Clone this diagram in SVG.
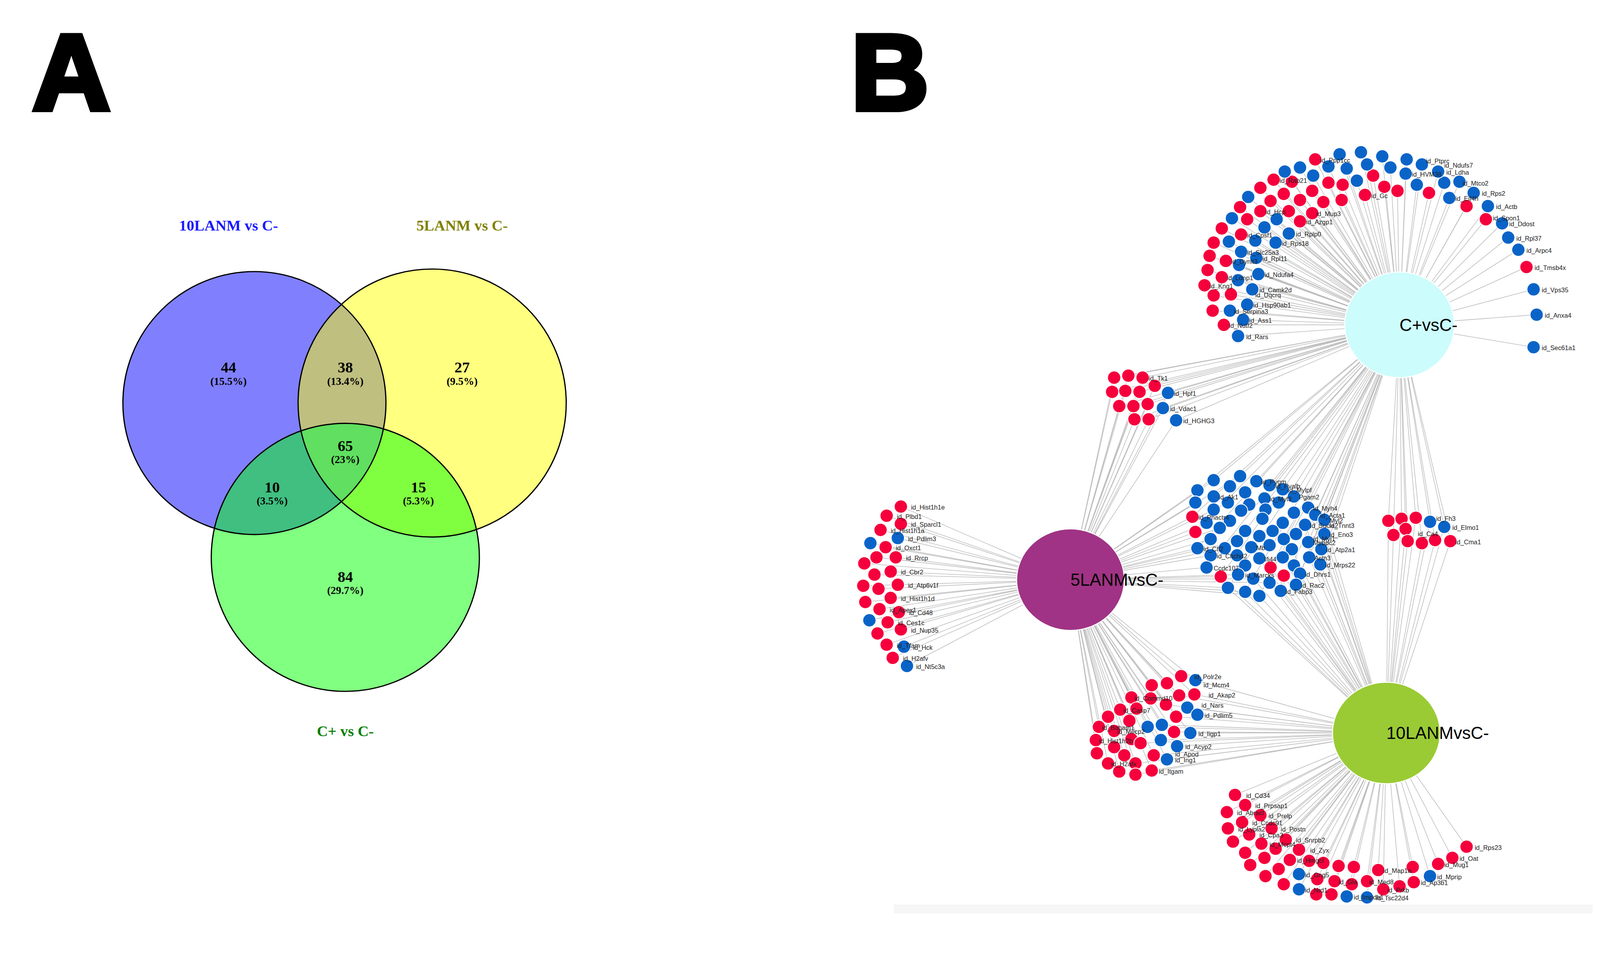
<svg xmlns="http://www.w3.org/2000/svg" width="4342" height="2490" viewBox="0 0 4342 2490">
<style>
.big{font-family:"Liberation Sans",Arial,sans-serif;font-weight:bold;font-size:106px;fill:#000;stroke:#000;stroke-width:5}
.vl{font-family:"Liberation Serif","Times New Roman",serif;font-weight:bold;font-size:15px;text-anchor:middle}
.vn{font-family:"Liberation Serif","Times New Roman",serif;font-weight:bold;font-size:15px;text-anchor:middle;fill:#000}
.vp{font-family:"Liberation Serif","Times New Roman",serif;font-weight:bold;font-size:10.5px;text-anchor:middle;fill:#000}
.e{fill:none;stroke:#bdbdbd;stroke-width:0.6}
.r{fill:#f5003c;stroke:#fff;stroke-width:0.8}
.b{fill:#0a64c8;stroke:#fff;stroke-width:0.8}
.t{font-family:"Liberation Sans",Arial,sans-serif;font-size:6.3px;fill:#222}
.h{font-family:"Liberation Sans",Arial,sans-serif;font-size:17px;fill:#000}
</style>
<rect width="4342" height="2490" fill="#fff"/>
<g transform="scale(2.6 2.598)">
<text class="big" x="32" y="108">A</text>
<text class="big" x="838" y="108">B</text>
<rect x="880" y="891" width="688" height="9" fill="#f6f6f6"/>

<g id="venn">
<defs>
<clipPath id="cB"><circle cx="250.5" cy="397" r="129.5"/></clipPath>
<clipPath id="cY"><circle cx="425.5" cy="397" r="132"/></clipPath>
</defs>
<circle cx="250.5" cy="397" r="129.5" fill="#8080ff"/>
<circle cx="425.5" cy="397" r="132" fill="#ffff80"/>
<circle cx="340" cy="549" r="132" fill="#80ff80"/>
<circle cx="425.5" cy="397" r="132" fill="#bfbf80" clip-path="url(#cB)"/>
<circle cx="340" cy="549" r="132" fill="#40bf80" clip-path="url(#cB)"/>
<circle cx="340" cy="549" r="132" fill="#80ff40" clip-path="url(#cY)"/>
<g clip-path="url(#cB)"><circle cx="340" cy="549" r="132" fill="#60df60" clip-path="url(#cY)"/></g>
<g fill="none" stroke="#000" stroke-width="1.2">
<circle cx="250.5" cy="397" r="129.5"/>
<circle cx="425.5" cy="397" r="132"/>
<circle cx="340" cy="549" r="132"/>
</g>
<text class="vl" x="225" y="227" fill="#1a1aff">10LANM vs C-</text>
<text class="vl" x="455" y="227" fill="#808000">5LANM vs C-</text>
<text class="vl" x="340" y="725" fill="#008000">C+ vs C-</text>
<text class="vn" x="225" y="367">44</text><text class="vp" x="225" y="379">(15.5%)</text>
<text class="vn" x="340" y="367">38</text><text class="vp" x="340" y="379">(13.4%)</text>
<text class="vn" x="455" y="367">27</text><text class="vp" x="455" y="379">(9.5%)</text>
<text class="vn" x="340" y="444">65</text><text class="vp" x="340" y="456">(23%)</text>
<text class="vn" x="268" y="485">10</text><text class="vp" x="268" y="497">(3.5%)</text>
<text class="vn" x="412" y="485">15</text><text class="vp" x="412" y="497">(5.3%)</text>
<text class="vn" x="340" y="573">84</text><text class="vp" x="340" y="585">(29.7%)</text>
</g>

<g id="connectors">
<path class="e" d="M1510 342L1378 320M1513 310L1378 320M1510 285L1378 320M1503 263L1378 320M1495 246L1378 320M1485 234L1378 320M1479 220L1378 320M1463 216L1378 320M1465 203L1378 320M1444 203L1378 320M1451 190L1378 320M1437 179L1378 320M1427 195L1378 320M1422 180L1378 320M1407 190L1378 320M1416 169L1378 320M1400 162L1378 320M1395 182L1378 320M1384 171L1378 320M1385 157L1378 320M1376 188L1378 320M1369 165L1378 320M1361 154L1378 320M1363 184L1378 320M1352 173L1378 320M1344 192L1378 320M1346 162L1378 320M1340 150L1378 320M1336 178L1378 320M1326 166L1378 320M1319 152L1378 320M1321 197L1378 320M1322 182L1378 320M1308 180L1378 320M1308 164L1378 320M1295 157L1378 320M1293 173L1378 320M1292 188L1378 320M1303 199L1378 320M1292 210L1378 320M1280 218L1378 320M1280 197L1378 320M1280 165L1378 320M1272 179L1378 320M1269 208L1378 320M1269 230L1378 320M1264 191L1378 320M1265 169L1378 320M1257 216L1378 320M1256 239L1378 320M1254 177L1378 320M1251 198L1378 320M1241 185L1378 320M1241 208L1378 320M1245 224L1378 320M1236 237L1378 320M1229 194L1378 320M1228 216L1378 320M1222 231L1378 320M1221 204L1378 320M1213 215L1378 320M1210 238L1378 320M1222 248L1378 320M1237 254L1378 320M1203 225L1378 320M1195 239L1378 320M1207 257L1378 320M1220 261L1378 320M1239 270L1378 320M1191 252L1378 320M1189 266L1378 320M1203 273L1378 320M1219 276L1378 320M1233 285L1378 320M1186 281L1378 320M1212 290L1378 320M1228 300L1378 320M1195 291L1378 320M1194 306L1378 320M1211 306L1378 320M1224 315L1378 320M1205 320L1378 320M1219 331L1378 320"/>
<path class="e" d="M1097 372L1378 320M1111 370L1378 320M1125 372L1378 320M1095 386L1378 320M1108 385L1378 320M1122 386L1378 320M1137 380L1378 320M1150 387L1378 320M1102 400L1378 320M1116 400L1378 320M1130 398L1378 320M1145 402L1378 320M1117 413L1378 320M1131 413L1378 320M1158 414L1378 320M1097 372L1054 571M1111 370L1054 571M1125 372L1054 571M1095 386L1054 571M1108 385L1054 571M1122 386L1054 571M1137 380L1054 571M1150 387L1054 571M1102 400L1054 571M1116 400L1054 571M1130 398L1054 571M1145 402L1054 571M1117 413L1054 571M1131 413L1054 571M1158 414L1054 571"/>
<path class="e" d="M887 499L1054 571M873 508L1054 571M887 516L1054 571M867 522L1054 571M884 530L1054 571M857 535L1054 571M872 539L1054 571M863 549L1054 571M882 549L1054 571M851 555L1054 571M877 563L1054 571M861 566L1054 571M850 577L1054 571M865 580L1054 571M884 576L1054 571M877 589L1054 571M852 593L1054 571M866 600L1054 571M885 603L1054 571M856 611L1054 571M874 613L1054 571M887 620L1054 571M864 624L1054 571M873 635L1054 571M890 637L1054 571M879 648L1054 571M893 656L1054 571"/>
<path class="e" d="M1221 469L1378 320M1195 473L1378 320M1237 474L1378 320M1250 478L1378 320M1179 483L1378 320M1263 482L1378 320M1274 489L1378 320M1288 500L1378 320M1295 507L1378 320M1304 512L1378 320M1304 526L1378 320M1288 534L1378 320M1301 541L1378 320M1289 549L1378 320M1300 556L1378 320M1280 565L1378 320M1276 576L1378 320M1261 582L1378 320M1240 587L1378 320M1226 583L1378 320M1209 579L1378 320M1174 509L1378 320M1177 524L1378 320M1179 540L1378 320M1188 559L1378 320M1202 568L1378 320M1245 491L1378 320M1226 523L1378 320M1264 531L1378 320M1251 559L1378 320M1221 469L1054 571M1195 473L1054 571M1179 483L1054 571M1177 495L1054 571M1174 509L1054 571M1188 515L1054 571M1177 524L1054 571M1192 531L1054 571M1179 540L1054 571M1192 547L1054 571M1188 559L1054 571M1202 568L1054 571M1209 579L1054 571M1226 583L1054 571M1240 587L1054 571M1219 566L1054 571M1206 540L1054 571M1195 502L1054 571M1201 520L1054 571M1218 533L1054 571M1234 570L1054 571M1250 574L1054 571M1209 579L1365 722M1226 583L1365 722M1240 587L1365 722M1261 582L1365 722M1276 576L1365 722M1250 574L1365 722M1264 567L1365 722M1280 565L1365 722M1300 556L1365 722M1289 549L1365 722M1301 541L1365 722M1288 534L1365 722M1304 526L1365 722M1304 512L1365 722M1295 507L1365 722M1288 500L1365 722M1274 557L1365 722M1251 559L1365 722M1234 570L1365 722M1202 568L1365 722M1272 541L1365 722M1285 517L1365 722M1263 549L1365 722M1240 550L1365 722"/>
<path class="e" d="M1367 513L1378 320M1380 511L1378 320M1394 510L1378 320M1408 514L1378 320M1422 519L1378 320M1372 527L1378 320M1386 533L1378 320M1400 535L1378 320M1413 532L1378 320M1428 533L1378 320M1384 521L1378 320M1367 513L1365 722M1380 511L1365 722M1394 510L1365 722M1408 514L1365 722M1422 519L1365 722M1372 527L1365 722M1386 533L1365 722M1400 535L1365 722M1413 532L1365 722M1428 533L1365 722M1384 521L1365 722"/>
<path class="e" d="M1163 666L1054 571M1177 670L1054 571M1149 673L1054 571M1134 675L1054 571M1176 684L1054 571M1161 685L1054 571M1114 687L1054 571M1133 688L1054 571M1148 694L1054 571M1169 697L1054 571M1179 704L1054 571M1103 699L1054 571M1119 698L1054 571M1158 706L1054 571M1091 706L1054 571M1112 710L1054 571M1130 716L1054 571M1144 714L1054 571M1082 716L1054 571M1097 720L1054 571M1156 721L1054 571M1172 722L1054 571M1079 729L1054 571M1114 728L1054 571M1143 729L1054 571M1159 735L1054 571M1097 736L1054 571M1123 732L1054 571M1080 742L1054 571M1107 744L1054 571M1136 744L1054 571M1149 748L1054 571M1091 752L1054 571M1118 752L1054 571M1102 760L1054 571M1118 763L1054 571M1134 759L1054 571M1163 666L1365 722M1177 670L1365 722M1176 684L1365 722M1169 697L1365 722M1179 704L1365 722M1158 706L1365 722M1156 721L1365 722M1172 722L1365 722M1159 735L1365 722M1149 748L1365 722M1143 729L1365 722M1136 744L1365 722M1134 759L1365 722M1118 763L1365 722M1144 714L1365 722M1148 694L1365 722M1161 685L1365 722M1130 716L1365 722M1123 732L1365 722M1118 752L1365 722"/>
<path class="e" d="M1216 783L1365 722M1226 793L1365 722M1208 800L1365 722M1241 803L1365 722M1223 810L1365 722M1252 816L1365 722M1209 816L1365 722M1230 822L1365 722M1214 829L1365 722M1242 831L1365 722M1266 827L1365 722M1256 836L1365 722M1226 840L1365 722M1279 837L1365 722M1245 845L1365 722M1231 852L1365 722M1270 847L1365 722M1289 848L1365 722M1303 850L1365 722M1246 863L1365 722M1259 856L1365 722M1279 861L1365 722M1318 853L1365 722M1333 854L1365 722M1357 857L1365 722M1391 854L1365 722M1416 851L1365 722M1430 845L1365 722M1444 834L1365 722M1408 863L1365 722M1392 869L1365 722M1378 873L1365 722M1362 876L1365 722M1346 868L1365 722M1331 871L1365 722M1314 868L1365 722M1297 866L1365 722M1264 871L1365 722M1279 876L1365 722M1296 881L1365 722M1311 881L1365 722M1326 883L1365 722M1346 884L1365 722"/>
</g>

<g id="cluster-cplus">
<circle class="b" cx="1510" cy="342" r="6.5"/><circle class="b" cx="1513" cy="310" r="6.5"/><circle class="b" cx="1510" cy="285" r="6.5"/><circle class="r" cx="1503" cy="263" r="6.5"/><circle class="b" cx="1495" cy="246" r="6.5"/><circle class="b" cx="1485" cy="234" r="6.5"/><circle class="b" cx="1479" cy="220" r="6.5"/><circle class="r" cx="1463" cy="216" r="6.5"/><circle class="b" cx="1465" cy="203" r="6.5"/><circle class="r" cx="1444" cy="203" r="6.5"/><circle class="b" cx="1451" cy="190" r="6.5"/><circle class="b" cx="1437" cy="179" r="6.5"/><circle class="b" cx="1427" cy="195" r="6.5"/><circle class="b" cx="1422" cy="180" r="6.5"/><circle class="r" cx="1407" cy="190" r="6.5"/><circle class="b" cx="1416" cy="169" r="6.5"/><circle class="b" cx="1400" cy="162" r="6.5"/><circle class="b" cx="1395" cy="182" r="6.5"/><circle class="b" cx="1384" cy="171" r="6.5"/><circle class="b" cx="1385" cy="157" r="6.5"/><circle class="r" cx="1376" cy="188" r="6.5"/><circle class="b" cx="1369" cy="165" r="6.5"/><circle class="b" cx="1361" cy="154" r="6.5"/><circle class="r" cx="1363" cy="184" r="6.5"/><circle class="r" cx="1352" cy="173" r="6.5"/><circle class="r" cx="1344" cy="192" r="6.5"/><circle class="b" cx="1346" cy="162" r="6.5"/><circle class="b" cx="1340" cy="150" r="6.5"/><circle class="b" cx="1336" cy="178" r="6.5"/><circle class="b" cx="1326" cy="166" r="6.5"/><circle class="b" cx="1319" cy="152" r="6.5"/><circle class="r" cx="1321" cy="197" r="6.5"/><circle class="r" cx="1322" cy="182" r="6.5"/><circle class="r" cx="1308" cy="180" r="6.5"/><circle class="b" cx="1308" cy="164" r="6.5"/><circle class="r" cx="1295" cy="157" r="6.5"/><circle class="b" cx="1293" cy="173" r="6.5"/><circle class="r" cx="1292" cy="188" r="6.5"/><circle class="r" cx="1303" cy="199" r="6.5"/><circle class="r" cx="1292" cy="210" r="6.5"/><circle class="r" cx="1280" cy="218" r="6.5"/><circle class="r" cx="1280" cy="197" r="6.5"/><circle class="b" cx="1280" cy="165" r="6.5"/><circle class="r" cx="1272" cy="179" r="6.5"/><circle class="r" cx="1269" cy="208" r="6.5"/><circle class="b" cx="1269" cy="230" r="6.5"/><circle class="r" cx="1264" cy="191" r="6.5"/><circle class="b" cx="1265" cy="169" r="6.5"/><circle class="b" cx="1257" cy="216" r="6.5"/><circle class="b" cx="1256" cy="239" r="6.5"/><circle class="r" cx="1254" cy="177" r="6.5"/><circle class="r" cx="1251" cy="198" r="6.5"/><circle class="r" cx="1241" cy="185" r="6.5"/><circle class="r" cx="1241" cy="208" r="6.5"/><circle class="b" cx="1245" cy="224" r="6.5"/><circle class="b" cx="1236" cy="237" r="6.5"/><circle class="b" cx="1229" cy="194" r="6.5"/><circle class="r" cx="1228" cy="216" r="6.5"/><circle class="r" cx="1222" cy="231" r="6.5"/><circle class="r" cx="1221" cy="204" r="6.5"/><circle class="b" cx="1213" cy="215" r="6.5"/><circle class="b" cx="1210" cy="238" r="6.5"/><circle class="b" cx="1222" cy="248" r="6.5"/><circle class="b" cx="1237" cy="254" r="6.5"/><circle class="r" cx="1203" cy="225" r="6.5"/><circle class="r" cx="1195" cy="239" r="6.5"/><circle class="r" cx="1207" cy="257" r="6.5"/><circle class="b" cx="1220" cy="261" r="6.5"/><circle class="b" cx="1239" cy="270" r="6.5"/><circle class="r" cx="1191" cy="252" r="6.5"/><circle class="r" cx="1189" cy="266" r="6.5"/><circle class="r" cx="1203" cy="273" r="6.5"/><circle class="b" cx="1219" cy="276" r="6.5"/><circle class="b" cx="1233" cy="285" r="6.5"/><circle class="r" cx="1186" cy="281" r="6.5"/><circle class="r" cx="1212" cy="290" r="6.5"/><circle class="b" cx="1228" cy="300" r="6.5"/><circle class="r" cx="1195" cy="291" r="6.5"/><circle class="r" cx="1194" cy="306" r="6.5"/><circle class="b" cx="1211" cy="306" r="6.5"/><circle class="b" cx="1224" cy="315" r="6.5"/><circle class="r" cx="1205" cy="320" r="6.5"/><circle class="b" cx="1219" cy="331" r="6.5"/>
<text class="t" x="1518" y="345">id_Sec61a1</text><text class="t" x="1521" y="313">id_Anxa4</text><text class="t" x="1518" y="288">id_Vps35</text><text class="t" x="1511" y="266">id_Tmsb4x</text><text class="t" x="1503" y="249">id_Arpc4</text><text class="t" x="1493" y="237">id_Rpl37</text><text class="t" x="1486" y="223">id_Ddost</text><text class="t" x="1470" y="217">id_Spon1</text><text class="t" x="1473" y="206">id_Actb</text><text class="t" x="1459" y="193">id_Rps2</text><text class="t" x="1440" y="183">id_Mtco2</text><text class="t" x="1424" y="172">id_Ldha</text><text class="t" x="1404" y="161">id_Ptprc</text><text class="t" x="1422" y="165">id_Ndufs7</text><text class="t" x="1390" y="174">id_HVM38</text><text class="t" x="1433" y="198">id_Eif4h</text><text class="t" x="1350" y="195">id_Gc</text><text class="t" x="1300" y="160">id_Ppp1cc</text><text class="t" x="1296" y="213">id_Mup3</text><text class="t" x="1286" y="221">id_Azgp1</text><text class="t" x="1276" y="233">id_Rplp0</text><text class="t" x="1262" y="242">id_Rps18</text><text class="t" x="1260" y="180">id_Rab21</text><text class="t" x="1246" y="211">id_Hcp</text><text class="t" x="1228" y="234">id_Cpsf1</text><text class="t" x="1228" y="251">id_Slc25a3</text><text class="t" x="1243" y="257">id_Rpl11</text><text class="t" x="1212" y="260">id_Dynlt3</text><text class="t" x="1245" y="273">id_Ndufa4</text><text class="t" x="1208" y="276">id_Lonp1</text><text class="t" x="1240" y="288">id_Camk2d</text><text class="t" x="1191" y="284">id_Kng1</text><text class="t" x="1236" y="293">id_Uqcrq</text><text class="t" x="1234" y="303">id_Hsp90ab1</text><text class="t" x="1215" y="309">id_Serpina3</text><text class="t" x="1230" y="318">id_Ass1</text><text class="t" x="1210" y="323">id_Nutf2</text><text class="t" x="1227" y="334">id_Rars</text>
</g>

<g id="cluster-cplus-5lanm">
<circle class="r" cx="1097" cy="372" r="6.5"/><circle class="r" cx="1111" cy="370" r="6.5"/><circle class="r" cx="1125" cy="372" r="6.5"/><circle class="r" cx="1095" cy="386" r="6.5"/><circle class="r" cx="1108" cy="385" r="6.5"/><circle class="r" cx="1122" cy="386" r="6.5"/><circle class="r" cx="1137" cy="380" r="6.5"/><circle class="b" cx="1150" cy="387" r="6.5"/><circle class="r" cx="1102" cy="400" r="6.5"/><circle class="r" cx="1116" cy="400" r="6.5"/><circle class="r" cx="1130" cy="398" r="6.5"/><circle class="b" cx="1145" cy="402" r="6.5"/><circle class="r" cx="1117" cy="413" r="6.5"/><circle class="r" cx="1131" cy="413" r="6.5"/><circle class="b" cx="1158" cy="414" r="6.5"/>
<text class="t" x="1131" y="375">id_Tk1</text><text class="t" x="1156" y="390">id_Hpf1</text><text class="t" x="1152" y="405">id_Vdac1</text><text class="t" x="1165" y="417">id_HGHG3</text>
</g>

<g id="cluster-5lanm">
<circle class="r" cx="887" cy="499" r="6.5"/><circle class="r" cx="873" cy="508" r="6.5"/><circle class="r" cx="887" cy="516" r="6.5"/><circle class="r" cx="867" cy="522" r="6.5"/><circle class="b" cx="884" cy="530" r="6.5"/><circle class="b" cx="857" cy="535" r="6.5"/><circle class="r" cx="872" cy="539" r="6.5"/><circle class="r" cx="863" cy="549" r="6.5"/><circle class="r" cx="882" cy="549" r="6.5"/><circle class="r" cx="851" cy="555" r="6.5"/><circle class="r" cx="877" cy="563" r="6.5"/><circle class="r" cx="861" cy="566" r="6.5"/><circle class="r" cx="850" cy="577" r="6.5"/><circle class="r" cx="865" cy="580" r="6.5"/><circle class="r" cx="884" cy="576" r="6.5"/><circle class="r" cx="877" cy="589" r="6.5"/><circle class="r" cx="852" cy="593" r="6.5"/><circle class="r" cx="866" cy="600" r="6.5"/><circle class="r" cx="885" cy="603" r="6.5"/><circle class="b" cx="856" cy="611" r="6.5"/><circle class="r" cx="874" cy="613" r="6.5"/><circle class="r" cx="887" cy="620" r="6.5"/><circle class="r" cx="864" cy="624" r="6.5"/><circle class="r" cx="873" cy="635" r="6.5"/><circle class="b" cx="890" cy="637" r="6.5"/><circle class="r" cx="879" cy="648" r="6.5"/><circle class="b" cx="893" cy="656" r="6.5"/>
<text class="t" x="897" y="502">id_Hist1h1e</text><text class="t" x="883" y="511">id_Plbd1</text><text class="t" x="897" y="519">id_Sparcl1</text><text class="t" x="877" y="525">id_Hist1h1a</text><text class="t" x="894" y="533">id_Pdlim3</text><text class="t" x="882" y="542">id_Oxct1</text><text class="t" x="892" y="552">id_Rrcp</text><text class="t" x="887" y="566">id_Cbr2</text><text class="t" x="894" y="579">id_Atp6v1f</text><text class="t" x="887" y="592">id_Hist1h1d</text><text class="t" x="876" y="603">id_Apex1</text><text class="t" x="895" y="606">id_Cd48</text><text class="t" x="884" y="616">id_Ces1c</text><text class="t" x="897" y="623">id_Nup35</text><text class="t" x="883" y="638">id_Tfam</text><text class="t" x="899" y="640">id_Hck</text><text class="t" x="889" y="651">id_H2afv</text><text class="t" x="902" y="659">id_Nt5c3a</text>
</g>

<g id="cluster-all">
<circle class="b" cx="1221" cy="469" r="6.5"/><circle class="b" cx="1195" cy="473" r="6.5"/><circle class="b" cx="1237" cy="474" r="6.5"/><circle class="b" cx="1211" cy="479" r="6.5"/><circle class="b" cx="1250" cy="478" r="6.5"/><circle class="b" cx="1179" cy="483" r="6.5"/><circle class="b" cx="1226" cy="485" r="6.5"/><circle class="b" cx="1263" cy="482" r="6.5"/><circle class="b" cx="1195" cy="489" r="6.5"/><circle class="b" cx="1245" cy="491" r="6.5"/><circle class="b" cx="1274" cy="489" r="6.5"/><circle class="b" cx="1177" cy="495" r="6.5"/><circle class="b" cx="1209" cy="495" r="6.5"/><circle class="b" cx="1230" cy="497" r="6.5"/><circle class="b" cx="1259" cy="495" r="6.5"/><circle class="b" cx="1288" cy="500" r="6.5"/><circle class="b" cx="1195" cy="502" r="6.5"/><circle class="b" cx="1222" cy="503" r="6.5"/><circle class="b" cx="1246" cy="502" r="6.5"/><circle class="r" cx="1174" cy="509" r="6.5"/><circle class="b" cx="1274" cy="505" r="6.5"/><circle class="b" cx="1295" cy="507" r="6.5"/><circle class="b" cx="1188" cy="515" r="6.5"/><circle class="b" cx="1211" cy="513" r="6.5"/><circle class="b" cx="1243" cy="511" r="6.5"/><circle class="b" cx="1263" cy="515" r="6.5"/><circle class="b" cx="1285" cy="517" r="6.5"/><circle class="b" cx="1304" cy="512" r="6.5"/><circle class="r" cx="1177" cy="524" r="6.5"/><circle class="b" cx="1201" cy="520" r="6.5"/><circle class="b" cx="1226" cy="523" r="6.5"/><circle class="b" cx="1253" cy="523" r="6.5"/><circle class="b" cx="1276" cy="526" r="6.5"/><circle class="b" cx="1304" cy="526" r="6.5"/><circle class="b" cx="1192" cy="531" r="6.5"/><circle class="b" cx="1218" cy="533" r="6.5"/><circle class="b" cx="1240" cy="528" r="6.5"/><circle class="b" cx="1264" cy="531" r="6.5"/><circle class="b" cx="1288" cy="534" r="6.5"/><circle class="b" cx="1179" cy="540" r="6.5"/><circle class="b" cx="1206" cy="540" r="6.5"/><circle class="b" cx="1232" cy="539" r="6.5"/><circle class="b" cx="1250" cy="537" r="6.5"/><circle class="b" cx="1272" cy="541" r="6.5"/><circle class="b" cx="1301" cy="541" r="6.5"/><circle class="b" cx="1192" cy="547" r="6.5"/><circle class="b" cx="1218" cy="547" r="6.5"/><circle class="b" cx="1240" cy="550" r="6.5"/><circle class="b" cx="1263" cy="549" r="6.5"/><circle class="b" cx="1289" cy="549" r="6.5"/><circle class="b" cx="1188" cy="559" r="6.5"/><circle class="b" cx="1226" cy="557" r="6.5"/><circle class="r" cx="1251" cy="559" r="6.5"/><circle class="b" cx="1274" cy="557" r="6.5"/><circle class="b" cx="1300" cy="556" r="6.5"/><circle class="r" cx="1202" cy="568" r="6.5"/><circle class="b" cx="1219" cy="566" r="6.5"/><circle class="b" cx="1234" cy="570" r="6.5"/><circle class="r" cx="1264" cy="567" r="6.5"/><circle class="b" cx="1280" cy="565" r="6.5"/><circle class="b" cx="1209" cy="579" r="6.5"/><circle class="b" cx="1226" cy="583" r="6.5"/><circle class="b" cx="1240" cy="587" r="6.5"/><circle class="b" cx="1250" cy="574" r="6.5"/><circle class="b" cx="1261" cy="582" r="6.5"/><circle class="b" cx="1276" cy="576" r="6.5"/>
<text class="t" x="1242" y="477">id_Pygm</text><text class="t" x="1256" y="481">id_Pvalb</text><text class="t" x="1268" y="485">id_Mylpf</text><text class="t" x="1200" y="492">id_Ak1</text><text class="t" x="1250" y="494">id_Myl3</text><text class="t" x="1279" y="492">Pgam2</text><text class="t" x="1293" y="503">id_Myh4</text><text class="t" x="1300" y="510">id_Acta1</text><text class="t" x="1309" y="515">Myl2</text><text class="t" x="1309" y="520">id_Tnnt3</text><text class="t" x="1180" y="512">id_Phactr4</text><text class="t" x="1290" y="520">id_Sucla2</text><text class="t" x="1309" y="529">id_Eno3</text><text class="t" x="1293" y="537">Mybpc2</text><text class="t" x="1293" y="533">id_Myl1</text><text class="t" x="1306" y="544">id_Atp2a1</text><text class="t" x="1294" y="552">Actn3</text><text class="t" x="1305" y="559">id_Mrps22</text><text class="t" x="1285" y="568">id_Dhrs1</text><text class="t" x="1281" y="579">id_Rac2</text><text class="t" x="1226" y="569">id_Marcks</text><text class="t" x="1245" y="553">Ifi44</text><text class="t" x="1195" y="562">Ccdc107</text><text class="t" x="1198" y="550">id_Chchd2</text><text class="t" x="1185" y="543">id_Cfl2</text><text class="t" x="1237" y="542">Mb</text><text class="t" x="1266" y="585">id_Fabp3</text>
</g>

<g id="cluster-cplus-10lanm">
<circle class="r" cx="1367" cy="513" r="6.5"/><circle class="r" cx="1380" cy="511" r="6.5"/><circle class="r" cx="1394" cy="510" r="6.5"/><circle class="b" cx="1408" cy="514" r="6.5"/><circle class="b" cx="1422" cy="519" r="6.5"/><circle class="r" cx="1384" cy="521" r="6.5"/><circle class="r" cx="1372" cy="527" r="6.5"/><circle class="r" cx="1386" cy="533" r="6.5"/><circle class="r" cx="1400" cy="535" r="6.5"/><circle class="r" cx="1413" cy="532" r="6.5"/><circle class="r" cx="1428" cy="533" r="6.5"/>
<text class="t" x="1414" y="513">id_Fh3</text><text class="t" x="1430" y="522">id_Elmo1</text><text class="t" x="1433" y="536">id_Cma1</text><text class="t" x="1396" y="528">id_Ca4</text>
</g>

<g id="cluster-5lanm-10lanm">
<circle class="r" cx="1163" cy="666" r="6.5"/><circle class="b" cx="1177" cy="670" r="6.5"/><circle class="r" cx="1149" cy="673" r="6.5"/><circle class="r" cx="1134" cy="675" r="6.5"/><circle class="r" cx="1176" cy="684" r="6.5"/><circle class="r" cx="1161" cy="685" r="6.5"/><circle class="r" cx="1114" cy="687" r="6.5"/><circle class="r" cx="1133" cy="688" r="6.5"/><circle class="r" cx="1148" cy="694" r="6.5"/><circle class="b" cx="1169" cy="697" r="6.5"/><circle class="b" cx="1179" cy="704" r="6.5"/><circle class="r" cx="1103" cy="699" r="6.5"/><circle class="r" cx="1119" cy="698" r="6.5"/><circle class="r" cx="1158" cy="706" r="6.5"/><circle class="r" cx="1091" cy="706" r="6.5"/><circle class="r" cx="1112" cy="710" r="6.5"/><circle class="b" cx="1130" cy="716" r="6.5"/><circle class="b" cx="1144" cy="714" r="6.5"/><circle class="r" cx="1082" cy="716" r="6.5"/><circle class="r" cx="1097" cy="720" r="6.5"/><circle class="r" cx="1156" cy="721" r="6.5"/><circle class="b" cx="1172" cy="722" r="6.5"/><circle class="r" cx="1079" cy="729" r="6.5"/><circle class="r" cx="1114" cy="728" r="6.5"/><circle class="b" cx="1143" cy="729" r="6.5"/><circle class="b" cx="1159" cy="735" r="6.5"/><circle class="r" cx="1097" cy="736" r="6.5"/><circle class="r" cx="1123" cy="732" r="6.5"/><circle class="r" cx="1080" cy="742" r="6.5"/><circle class="r" cx="1107" cy="744" r="6.5"/><circle class="r" cx="1136" cy="744" r="6.5"/><circle class="b" cx="1149" cy="748" r="6.5"/><circle class="r" cx="1091" cy="752" r="6.5"/><circle class="r" cx="1118" cy="752" r="6.5"/><circle class="r" cx="1102" cy="760" r="6.5"/><circle class="r" cx="1118" cy="763" r="6.5"/><circle class="r" cx="1134" cy="759" r="6.5"/>
<text class="t" x="1176" y="669">id_Polr2e</text><text class="t" x="1185" y="677">id_Mcm4</text><text class="t" x="1190" y="687">id_Akap2</text><text class="t" x="1183" y="697">id_Nars</text><text class="t" x="1186" y="707">id_Pdlim5</text><text class="t" x="1117" y="690">id_Commd10</text><text class="t" x="1106" y="702">id_Casp7</text><text class="t" x="1180" y="725">id_Iigp1</text><text class="t" x="1085" y="719">id_Babam1</text><text class="t" x="1100" y="723">id_Mecp2</text><text class="t" x="1082" y="732">id_Hist1h2b</text><text class="t" x="1167" y="738">id_Acyp2</text><text class="t" x="1157" y="745">id_Apod</text><text class="t" x="1157" y="751">id_Ing1</text><text class="t" x="1094" y="755">id_H2afx</text><text class="t" x="1141" y="762">id_Itgam</text>
</g>

<g id="cluster-10lanm">
<circle class="r" cx="1216" cy="783" r="6.5"/><circle class="r" cx="1226" cy="793" r="6.5"/><circle class="r" cx="1208" cy="800" r="6.5"/><circle class="r" cx="1241" cy="803" r="6.5"/><circle class="r" cx="1223" cy="810" r="6.5"/><circle class="r" cx="1252" cy="816" r="6.5"/><circle class="r" cx="1209" cy="816" r="6.5"/><circle class="r" cx="1230" cy="822" r="6.5"/><circle class="r" cx="1214" cy="829" r="6.5"/><circle class="r" cx="1242" cy="831" r="6.5"/><circle class="r" cx="1266" cy="827" r="6.5"/><circle class="r" cx="1256" cy="836" r="6.5"/><circle class="r" cx="1226" cy="840" r="6.5"/><circle class="r" cx="1279" cy="837" r="6.5"/><circle class="r" cx="1245" cy="845" r="6.5"/><circle class="r" cx="1231" cy="852" r="6.5"/><circle class="r" cx="1270" cy="847" r="6.5"/><circle class="r" cx="1289" cy="848" r="6.5"/><circle class="r" cx="1303" cy="850" r="6.5"/><circle class="r" cx="1246" cy="863" r="6.5"/><circle class="r" cx="1259" cy="856" r="6.5"/><circle class="b" cx="1279" cy="861" r="6.5"/><circle class="r" cx="1318" cy="853" r="6.5"/><circle class="r" cx="1333" cy="854" r="6.5"/><circle class="r" cx="1357" cy="857" r="6.5"/><circle class="r" cx="1391" cy="854" r="6.5"/><circle class="r" cx="1416" cy="851" r="6.5"/><circle class="r" cx="1430" cy="845" r="6.5"/><circle class="r" cx="1444" cy="834" r="6.5"/><circle class="b" cx="1408" cy="863" r="6.5"/><circle class="r" cx="1392" cy="869" r="6.5"/><circle class="r" cx="1378" cy="873" r="6.5"/><circle class="r" cx="1362" cy="876" r="6.5"/><circle class="r" cx="1346" cy="868" r="6.5"/><circle class="r" cx="1331" cy="871" r="6.5"/><circle class="r" cx="1314" cy="868" r="6.5"/><circle class="r" cx="1297" cy="866" r="6.5"/><circle class="r" cx="1264" cy="871" r="6.5"/><circle class="b" cx="1279" cy="876" r="6.5"/><circle class="r" cx="1296" cy="881" r="6.5"/><circle class="r" cx="1311" cy="881" r="6.5"/><circle class="b" cx="1326" cy="883" r="6.5"/><circle class="b" cx="1346" cy="884" r="6.5"/>
<text class="t" x="1227" y="786">id_Cd34</text><text class="t" x="1236" y="796">id_Prpsap1</text><text class="t" x="1218" y="803">id_Abracl</text><text class="t" x="1249" y="806">id_Prelp</text><text class="t" x="1233" y="813">id_Ccdc91</text><text class="t" x="1261" y="819">id_Postn</text><text class="t" x="1219" y="819">id_Lypla2</text><text class="t" x="1240" y="825">id_Cpa3</text><text class="t" x="1276" y="830">id_Snrpb2</text><text class="t" x="1250" y="834">id_Mcpt4</text><text class="t" x="1290" y="840">id_Zyx</text><text class="t" x="1277" y="850">id_Hmgcl</text><text class="t" x="1285" y="864">id_Gng5</text><text class="t" x="1362" y="860">id_Map1a</text><text class="t" x="1422" y="854">id_Mug1</text><text class="t" x="1437" y="848">id_Oat</text><text class="t" x="1452" y="837">id_Rps23</text><text class="t" x="1415" y="866">id_Mprip</text><text class="t" x="1399" y="872">id_Ap3b1</text><text class="t" x="1366" y="879">id_Prkb</text><text class="t" x="1318" y="871">id_Gla</text><text class="t" x="1348" y="871">id_Med8</text><text class="t" x="1285" y="879">id_Nrd1</text><text class="t" x="1333" y="886">id_Impdh1</text><text class="t" x="1355" y="887">id_Tsc22d4</text>
</g>

<g id="hub-cplus"><ellipse cx="1378" cy="320" rx="54" ry="52" fill="#ccfcfc" stroke="#fff" stroke-width="1"/><text class="h" x="1378" y="326">C+vsC-</text></g>
<g id="hub-5lanm"><ellipse cx="1054" cy="571" rx="53" ry="50" fill="#a03385" stroke="#fff" stroke-width="1"/><text class="h" x="1054" y="577">5LANMvsC-</text></g>
<g id="hub-10lanm"><ellipse cx="1365" cy="722" rx="53" ry="50" fill="#9acb34" stroke="#fff" stroke-width="1"/><text class="h" x="1365" y="728">10LANMvsC-</text></g>
</g>
</svg>
